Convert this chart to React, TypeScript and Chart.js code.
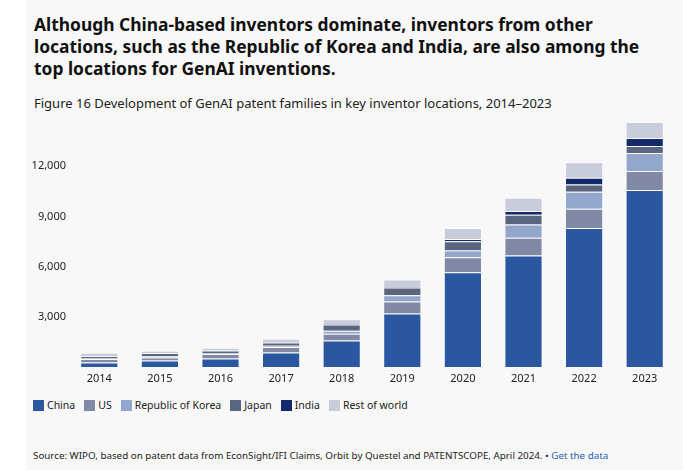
import React, { useEffect, useRef } from "react";
import { Chart, registerables } from "chart.js";

Chart.register(...registerables);

const years = ["2014", "2015", "2016", "2017", "2018", "2019", "2020", "2021", "2022", "2023"];
const china = [270, 390, 510, 870, 1590, 3200, 5660, 6660, 8310, 10580];
const us = [210, 180, 260, 320, 400, 720, 900, 1070, 1150, 1140];
const korea = [30, 80, 60, 80, 170, 370, 400, 790, 1010, 1070];
const japan = [140, 180, 160, 200, 380, 460, 550, 580, 440, 420];
const india = [10, 10, 10, 30, 80, 80, 140, 220, 400, 480];
const rest = [190, 130, 150, 190, 240, 400, 660, 790, 930, 950];
const yTicks = [3000, 6000, 9000, 12000];

const seriesNames = ["China", "US", "Republic of Korea", "Japan", "India", "Rest of world"];
const seriesColors = ["#2a57a0", "#8189a6", "#93a6cb", "#5a6580", "#14296a", "#c9ccda"];
const seriesData = [china, us, korea, japan, india, rest];

const FONT = "'Noto Sans', 'Open Sans', sans-serif";

export default function App() {
  const ref = useRef<HTMLCanvasElement | null>(null);

  useEffect(() => {
    document.body.style.margin = "0";
    if (!ref.current) return;
    const chart = new Chart(ref.current, {
      type: "bar",
      data: {
        labels: years,
        datasets: seriesNames.map((n, i) => ({
          label: n,
          data: seriesData[i],
          backgroundColor: seriesColors[i],
          borderColor: "rgba(255,255,255,0.35)",
          borderWidth: 1,
          categoryPercentage: 0.63,
          barPercentage: 1,
        })),
      },
      options: {
        animation: false,
        responsive: false,
        maintainAspectRatio: false,
        layout: { padding: { left: 0, right: 8, top: 16, bottom: 0 } },
        plugins: { legend: { display: false }, tooltip: { enabled: false } },
        scales: {
          x: {
            stacked: true,
            grid: { display: false, drawTicks: false },
            border: { display: false },
            ticks: { color: "#222", font: { family: FONT, size: 11 }, padding: 5 },
            afterFit: (s: any) => { s.height = 20; },
          },
          y: {
            stacked: true,
            min: 0,
            max: 15000,
            grid: { display: false, drawTicks: false },
            border: { display: false },
            afterBuildTicks: (s: any) => {
              s.ticks = yTicks.map((v) => ({ value: v }));
            },
            ticks: {
              color: "#222",
              font: { family: FONT, size: 11 },
              padding: 3,
              callback: (v: any) => Number(v).toLocaleString("en-US"),
            },
            afterFit: (s: any) => { s.width = 43; },
          },
        },
      },
    });
    return () => chart.destroy();
  }, []);

  return (
    <div style={{ position: "relative", width: 683, height: 470, background: "#fff", fontFamily: FONT, overflow: "hidden" }}>
      <div style={{ position: "absolute", left: 26, top: 0, width: 657, height: 470, background: "#f8f8f8" }} />
      <div style={{ position: "absolute", left: 34, top: 13, fontSize: 17.4, fontWeight: 700, lineHeight: "22px", color: "#111", whiteSpace: "nowrap" }}>
        Although China-based inventors dominate, inventors from other<br />
        locations, such as the Republic of Korea and India, are also among the<br />
        top locations for GenAI inventions.
      </div>
      <div style={{ position: "absolute", left: 34, top: 94, fontSize: 13, color: "#222", whiteSpace: "nowrap" }}>
        Figure 16 Development of GenAI patent families in key inventor locations, 2014–2023
      </div>
      <canvas ref={ref} width={657} height={287} style={{ position: "absolute", left: 26, top: 100, width: 657, height: 287 }} />
      <div style={{ position: "absolute", left: 33, top: 398, display: "flex", alignItems: "center", fontSize: 10.5, color: "#222", whiteSpace: "nowrap" }}>
        {seriesNames.map((n, i) => (
          <span key={n} style={{ display: "flex", alignItems: "center", marginRight: 9 }}>
            <span style={{ display: "inline-block", width: 11, height: 11, background: seriesColors[i], marginRight: 3 }} />
            {n}
          </span>
        ))}
      </div>
      <div style={{ position: "absolute", left: 33, top: 449, fontSize: 9.8, color: "#222", whiteSpace: "nowrap" }}>
        Source: WIPO, based on patent data from EconSight/IFI Claims, Orbit by Questel and PATENTSCOPE, April 2024. • <span style={{ color: "#2a5db0" }}>Get the data</span>
      </div>
    </div>
  );
}
